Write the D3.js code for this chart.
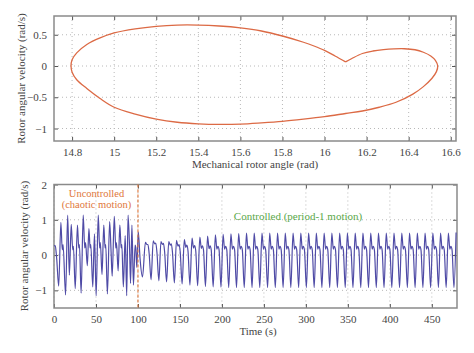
<!DOCTYPE html>
<html>
<head>
<meta charset="utf-8">
<script src="https://cdn.jsdelivr.net/npm/d3@7"></script>
<style>
  body { margin: 0; background: #fff; }
  svg text { font-family: "Liberation Serif", "Times New Roman", "DejaVu Serif", serif !important; fill: #444; }
</style>
</head>
<body>
<svg id="chart" width="474" height="353"></svg>
<script>
// phase portrait (top panel), traced starting and ending at the cusp
const phaseAngle = [16.10, 16.13, 16.18, 16.23, 16.28, 16.33, 16.38, 16.43, 16.47, 16.505, 16.527, 16.538,
  16.532, 16.51, 16.47, 16.42, 16.34, 16.26, 16.18, 16.1, 16.0, 15.9, 15.8, 15.7, 15.6, 15.5, 15.4, 15.3,
  15.2, 15.1, 15.0, 14.933, 14.87, 14.822, 14.8, 14.795, 14.8, 14.822, 14.87, 14.933, 15.0, 15.1, 15.2,
  15.3, 15.4, 15.5, 15.6, 15.7, 15.8, 15.9, 15.95, 16.0, 16.05, 16.10];
const phaseVel = [0.065, 0.12, 0.2, 0.24, 0.262, 0.274, 0.276, 0.26, 0.22, 0.16, 0.09, 0.0,
  -0.09, -0.2, -0.33, -0.45, -0.58, -0.66, -0.72, -0.76, -0.81, -0.85, -0.885, -0.91, -0.93, -0.935, -0.925, -0.9,
  -0.85, -0.77, -0.66, -0.52, -0.36, -0.22, -0.1, 0.0, 0.1, 0.21, 0.345, 0.45, 0.53, 0.595, 0.635,
  0.655, 0.655, 0.64, 0.61, 0.56, 0.48, 0.38, 0.32, 0.25, 0.16, 0.065];
const angleTicks = [14.8, 15, 15.2, 15.4, 15.6, 15.8, 16, 16.2, 16.4, 16.6];
const phaseVelTicks = [-1, -0.5, 0, 0.5];

// time series (bottom panel)
const uncontrolledTime = [0, 1.5, 3.2, 5.6, 8.2, 9.8, 10.8, 13.8, 16.3, 18.3, 20.5, 22.3, 23.1, 25.3,
  27.9, 29.5, 30.3, 32.3, 34.8, 36.6, 37.6, 39.7, 41.6, 43.0, 43.8, 46.2, 48.2, 50.2, 52.7, 54.4, 55.2,
  57.2, 59.3, 60.8, 61.6, 63.6, 66.3, 67.9, 69.3, 71.8, 73.6, 74.4, 76.4, 78.4, 80.0, 80.8, 82.6, 84.8,
  86.6, 88.2, 90.0, 91.2, 92.8, 94.6, 96.6, 97.4, 98.6, 100.4, 102.5, 105.4];
const uncontrolledVel = [0.27, 0.26, -0.1, -0.88, 0.93, 0.15, 0.3, -1.13, 1.13, -0.57, 0.87, 0.15, 0.25, -0.95,
  0.85, 0.2, 0.3, -1.08, 1.13, 0.2, 0.35, -0.3, 0.75, 0.2, 0.3, -0.9, 0.6, -1.15, 1.13, 0.2, 0.35,
  -0.55, 0.85, 0.2, 0.3, -1.1, 0.95, 0.15, -0.6, 1.1, 0.2, 0.35, -0.45, 0.85, 0.2, 0.3, -0.9, 0.55,
  -1.15, 1.13, 0.2, -0.8, 0.85, -0.85, 0.28, 0.22, -0.35, 0.66, -0.1, -0.62];
// each row: peak, kink, bump, bump end, trough
const controlledTime = [
  108.9, 110.7, 111.9, 113.3, 115.6, 118.2, 120.0, 121.2, 122.6, 124.9,
  127.4, 129.2, 130.4, 131.8, 134.1, 136.7, 138.5, 139.7, 141.1, 143.4,
  145.9, 147.7, 148.9, 150.3, 152.6, 155.2, 157.0, 158.2, 159.6, 161.9,
  164.4, 166.2, 167.4, 168.8, 171.1, 173.7, 175.5, 176.7, 178.1, 180.4,
  182.9, 184.7, 185.9, 187.3, 189.6, 192.2, 194.0, 195.2, 196.6, 198.9,
  201.4, 203.2, 204.4, 205.8, 208.1, 210.7, 212.5, 213.7, 215.1, 217.4,
  219.9, 221.7, 222.9, 224.3, 226.6, 229.2, 231.0, 232.2, 233.6, 235.9,
  238.4, 240.2, 241.4, 242.8, 245.1, 247.7, 249.5, 250.7, 252.1, 254.4,
  256.9, 258.7, 259.9, 261.3, 263.6, 266.2, 268.0, 269.2, 270.6, 272.9,
  275.4, 277.2, 278.4, 279.8, 282.1, 284.7, 286.5, 287.7, 289.1, 291.4,
  293.9, 295.7, 296.9, 298.3, 300.6, 303.2, 305.0, 306.2, 307.6, 309.9,
  312.4, 314.2, 315.4, 316.8, 319.1, 321.7, 323.5, 324.7, 326.1, 328.4,
  330.9, 332.7, 333.9, 335.3, 337.6, 340.2, 342.0, 343.2, 344.6, 346.9,
  349.4, 351.2, 352.4, 353.8, 356.1, 358.7, 360.5, 361.7, 363.1, 365.4,
  367.9, 369.7, 370.9, 372.3, 374.6, 377.2, 379.0, 380.2, 381.6, 383.9,
  386.4, 388.2, 389.4, 390.8, 393.1, 395.7, 397.5, 398.7, 400.1, 402.4,
  404.9, 406.7, 407.9, 409.3, 411.6, 414.2, 416.0, 417.2, 418.6, 420.9,
  423.4, 425.2, 426.4, 427.8, 430.1, 432.7, 434.5, 435.7, 437.1, 439.4,
  441.9, 443.7, 444.9, 446.3, 448.6, 451.2, 453.0, 454.2, 455.6, 457.9,
  460.4, 462.2, 463.4, 464.8, 467.1, 469.7, 471.5, 472.7, 474.1, 476.4,
  478.9];
const controlledVel = [
  0.36, 0.30, 0.30, 0.05, -0.70, 0.40, 0.32, 0.34, 0.08, -0.73,
  0.38, 0.30, 0.33, 0.08, -0.76, 0.38, 0.28, 0.32, 0.08, -0.79,
  0.42, 0.25, 0.30, 0.10, -0.82, 0.44, 0.22, 0.28, 0.12, -0.85,
  0.48, 0.20, 0.27, 0.13, -0.87, 0.51, 0.19, 0.26, 0.14, -0.89,
  0.54, 0.18, 0.26, 0.14, -0.90, 0.57, 0.17, 0.25, 0.15, -0.91,
  0.59, 0.17, 0.25, 0.15, -0.92, 0.60, 0.17, 0.25, 0.15, -0.92,
  0.61, 0.17, 0.25, 0.15, -0.92, 0.62, 0.17, 0.25, 0.15, -0.92,
  0.62, 0.17, 0.25, 0.15, -0.92, 0.62, 0.17, 0.25, 0.15, -0.92,
  0.62, 0.17, 0.25, 0.15, -0.92, 0.62, 0.17, 0.25, 0.15, -0.92,
  0.62, 0.17, 0.25, 0.15, -0.92, 0.62, 0.17, 0.25, 0.15, -0.92,
  0.62, 0.17, 0.25, 0.15, -0.92, 0.62, 0.17, 0.25, 0.15, -0.92,
  0.62, 0.17, 0.25, 0.15, -0.92, 0.62, 0.17, 0.25, 0.15, -0.92,
  0.62, 0.17, 0.25, 0.15, -0.92, 0.62, 0.17, 0.25, 0.15, -0.92,
  0.62, 0.17, 0.25, 0.15, -0.92, 0.62, 0.17, 0.25, 0.15, -0.92,
  0.62, 0.17, 0.25, 0.15, -0.92, 0.62, 0.17, 0.25, 0.15, -0.92,
  0.62, 0.17, 0.25, 0.15, -0.92, 0.62, 0.17, 0.25, 0.15, -0.92,
  0.62, 0.17, 0.25, 0.15, -0.92, 0.62, 0.17, 0.25, 0.15, -0.92,
  0.62, 0.17, 0.25, 0.15, -0.92, 0.62, 0.17, 0.25, 0.15, -0.92,
  0.62, 0.17, 0.25, 0.15, -0.92, 0.62, 0.17, 0.25, 0.15, -0.92,
  0.62, 0.17, 0.25, 0.15, -0.92, 0.62, 0.17, 0.25, 0.15, -0.92,
  0.64];
const timeTicks = [0, 50, 100, 150, 200, 250, 300, 350, 400, 450];
const velTicks = [-1, 0, 1, 2];
const switchTime = 100;

const serif = '"Liberation Serif", "Times New Roman", serif';
const svg = d3.select("#chart").attr("font-family", serif);
const fmt = (d) => String(d).replace("-", "\u2212");

// draws frame, grid and inward ticks; returns scales and group
function drawPanel(box, xDomain, yDomain, xTicks, yTicks, id) {
  const x = d3.scaleLinear().domain(xDomain).range([box.left, box.right]);
  const y = d3.scaleLinear().domain(yDomain).range([box.bottom, box.top]);
  const g = svg.append("g");

  g.append("clipPath").attr("id", id)
    .append("rect")
    .attr("x", box.left).attr("y", box.top)
    .attr("width", box.right - box.left).attr("height", box.bottom - box.top);

  // dotted grid
  g.selectAll(".vg").data(xTicks).join("line")
    .attr("x1", d => x(d)).attr("x2", d => x(d))
    .attr("y1", box.top).attr("y2", box.bottom)
    .attr("stroke", "#b8b8b8").attr("stroke-width", 1).attr("stroke-dasharray", "1,3");
  g.selectAll(".hg").data(yTicks).join("line")
    .attr("x1", box.left).attr("x2", box.right)
    .attr("y1", d => y(d)).attr("y2", d => y(d))
    .attr("stroke", "#b8b8b8").attr("stroke-width", 1).attr("stroke-dasharray", "1,3");

  // axes with ticks pointing inward
  const axB = g.append("g").attr("transform", `translate(0,${box.bottom})`)
    .call(d3.axisBottom(x).tickValues(xTicks).tickSize(-4).tickPadding(7).tickFormat(fmt));
  const axT = g.append("g").attr("transform", `translate(0,${box.top})`)
    .call(d3.axisTop(x).tickValues(xTicks).tickSize(-4).tickFormat(""));
  const axL = g.append("g").attr("transform", `translate(${box.left},0)`)
    .call(d3.axisLeft(y).tickValues(yTicks).tickSize(-4).tickPadding(7).tickFormat(fmt));
  const axR = g.append("g").attr("transform", `translate(${box.right},0)`)
    .call(d3.axisRight(y).tickValues(yTicks).tickSize(-4).tickFormat(""));
  [axB, axT, axL, axR].forEach(a => {
    a.attr("font-family", serif).attr("font-size", 11);
    a.select(".domain").remove();
    a.selectAll(".tick line").attr("stroke", "#555");
    a.selectAll("text").attr("fill", "#444");
  });

  g.append("rect")
    .attr("x", box.left).attr("y", box.top)
    .attr("width", box.right - box.left).attr("height", box.bottom - box.top)
    .attr("fill", "none").attr("stroke", "#8a8a8a").attr("stroke-width", 1.5);

  return { x, y, g };
}

// ---- top panel: phase portrait
const topPanel = drawPanel({ left: 54, right: 456, top: 16, bottom: 141 },
  [14.714, 16.625], [-1.2, 0.8], angleTicks, phaseVelTicks, "clipTop");

const phasePts = phaseAngle.map((a, i) => [a, phaseVel[i]]);
topPanel.g.append("path")
  .datum(phasePts)
  .attr("clip-path", "url(#clipTop)")
  .attr("fill", "none")
  .attr("stroke", "#dc6a45")
  .attr("stroke-width", 1.3)
  .attr("d", d3.line().x(d => topPanel.x(d[0])).y(d => topPanel.y(d[1])).curve(d3.curveCatmullRom.alpha(0.5)));

topPanel.g.append("text")
  .attr("x", 255).attr("y", 168).attr("text-anchor", "middle").attr("font-size", 11)
  .text("Mechanical rotor angle (rad)");
topPanel.g.append("text")
  .attr("transform", "translate(25,78.5) rotate(-90)")
  .attr("text-anchor", "middle").attr("font-size", 11)
  .text("Rotor angular velocity (rad/s)");

// ---- bottom panel: time series
const botPanel = drawPanel({ left: 54, right: 457, top: 184.5, bottom: 308 },
  [0, 480], [-1.5, 2], timeTicks, velTicks, "clipBot");

const runPts = uncontrolledTime.map((t, i) => [t, uncontrolledVel[i]])
  .concat(controlledTime.map((t, i) => [t, controlledVel[i]]));

botPanel.g.append("path")
  .datum(runPts)
  .attr("clip-path", "url(#clipBot)")
  .attr("fill", "none")
  .attr("stroke", "#4f4ba6")
  .attr("stroke-width", 1.2)
  .attr("d", d3.line().x(d => botPanel.x(d[0])).y(d => botPanel.y(d[1])).curve(d3.curveMonotoneX));

botPanel.g.append("line")
  .attr("x1", botPanel.x(switchTime)).attr("x2", botPanel.x(switchTime))
  .attr("y1", 184.5).attr("y2", 308)
  .attr("stroke", "#e0763a").attr("stroke-width", 1.1).attr("stroke-dasharray", "3,2");

botPanel.g.append("text")
  .attr("x", 96.5).attr("y", 196.5).attr("text-anchor", "middle").attr("font-size", 10.5)
  .style("fill", "#e0763a").text("Uncontrolled");
botPanel.g.append("text")
  .attr("x", 96.5).attr("y", 208.3).attr("text-anchor", "middle").attr("font-size", 10.5)
  .style("fill", "#e0763a").text("(chaotic motion)");
botPanel.g.append("text")
  .attr("x", 298).attr("y", 219.5).attr("text-anchor", "middle").attr("font-size", 11)
  .style("fill", "#5aa84a").text("Controlled (period-1 motion)");

botPanel.g.append("text")
  .attr("x", 258).attr("y", 335).attr("text-anchor", "middle").attr("font-size", 11)
  .text("Time (s)");
botPanel.g.append("text")
  .attr("transform", "translate(28,246) rotate(-90)")
  .attr("text-anchor", "middle").attr("font-size", 11)
  .text("Rotor angular velocity (rad/s)");
</script>
</body>
</html>
